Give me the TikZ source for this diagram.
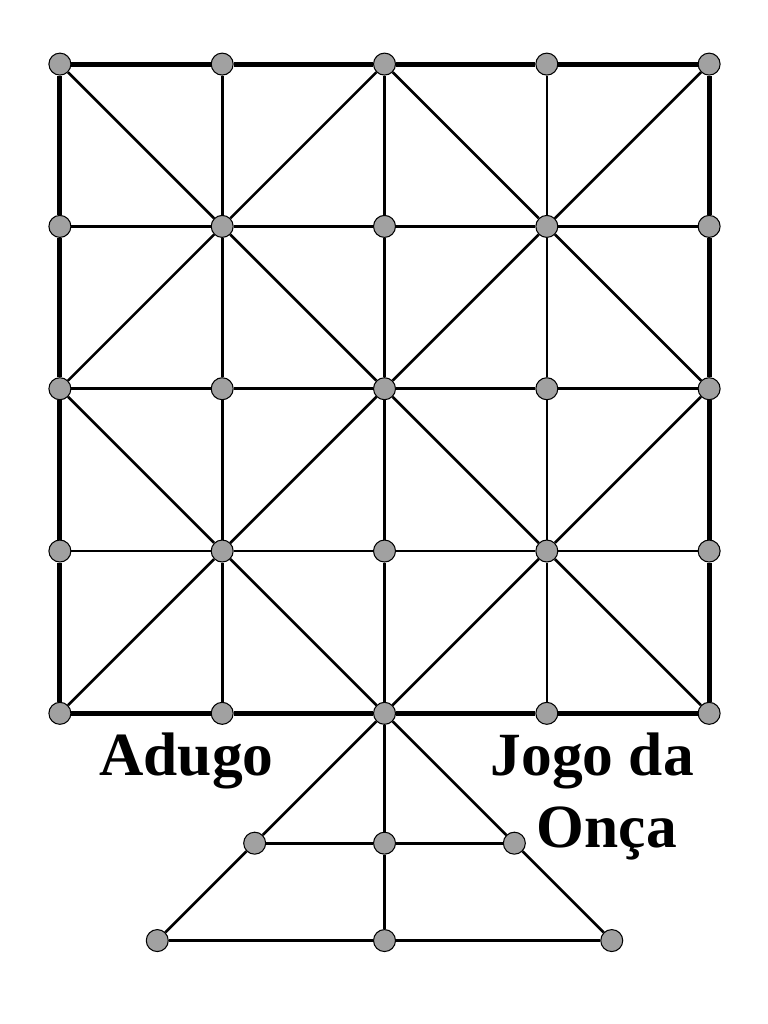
\documentclass[tikz,border=0pt]{standalone}
\usepackage{fontspec}
\setmainfont{Liberation Serif}
\definecolor{dotgray}{gray}{0.63}

\begin{document}
\begin{tikzpicture}[x=3.25cm, y=3.25cm,
	dot/.style={circle, draw, line width=0.6pt, fill=dotgray, inner sep=0pt, minimum size=0.44cm},
	line/.style={line width=1.5pt},
	border/.style={line width=2.9pt},
	word/.style={anchor=base, inner sep=0pt, font=\fontsize{35}{42}\selectfont\bfseries}]
	\useasboundingbox (-0.369,-1.914) rectangle (4.357,4.395);

	% board points
	\foreach \i in {0,...,4}{
		\foreach \j in {0,...,4}{
			\node[dot] (p-\i-\j) at (\i,\j) {};
		}
	}

	% the triangle below
	\node[dot] (t-l1) at (1.2,-0.8) {};
	\node[dot] (t-m1) at (2,-0.8) {};
	\node[dot] (t-r1) at (2.8,-0.8) {};
	\node[dot] (t-l2) at (0.6,-1.4) {};
	\node[dot] (t-m2) at (2,-1.4) {};
	\node[dot] (t-r2) at (3.4,-1.4) {};

	% grid lines
	\foreach \i [count=\n from 1] in {0,...,3}{
		\foreach \j in {1,2,3}{
			\draw[line] (p-\i-\j) -- (p-\n-\j);
			\draw[line] (p-\j-\i) -- (p-\j-\n);
		}
		\draw[border] (p-\i-0) -- (p-\n-0);
		\draw[border] (p-\i-4) -- (p-\n-4);
		\draw[border] (p-0-\i) -- (p-0-\n);
		\draw[border] (p-4-\i) -- (p-4-\n);
	}

	% diagonals
	\foreach \i [count=\n from 1] in {0,...,3}{
		\foreach \j [count=\m from 1] in {0,...,3}{
			\pgfmathtruncatemacro\odd{mod(\i+\j,2)}
			\ifnum\odd=0
				\draw[line] (p-\i-\j) -- (p-\n-\m);
			\else
				\draw[line] (p-\i-\m) -- (p-\n-\j);
			\fi
		}
	}

	\draw[line] (p-2-0) -- (t-l1) -- (t-l2);
	\draw[line] (p-2-0) -- (t-m1) -- (t-m2);
	\draw[line] (p-2-0) -- (t-r1) -- (t-r2);
	\draw[line] (t-l1) -- (t-m1) -- (t-r1);
	\draw[line] (t-l2) -- (t-m2) -- (t-r2);

	\node[word] (adugo) at (0.78,-0.382) {Adugo};
	\node[word] (jogo) at (3.28,-0.382) {Jogo da};
	\node[word] (onca) at (3.37,-0.825) {Onça};
\end{tikzpicture}
\end{document}
